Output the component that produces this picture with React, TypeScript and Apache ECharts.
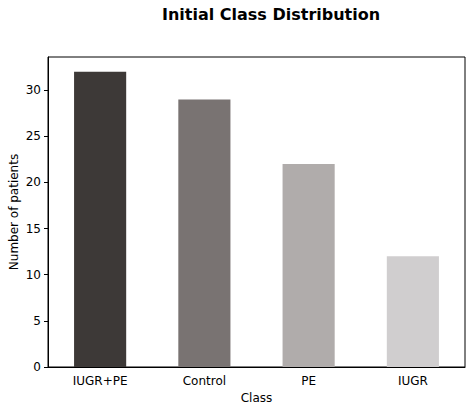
import { useEffect, useRef } from 'react';
import * as echarts from 'echarts';

const categories = ['IUGR+PE', 'Control', 'PE', 'IUGR'];
const patientCounts = [32, 29, 22, 12];
const barColors = ['#3d3937', '#797372', '#b0acab', '#d0cecf'];

export default function App() {
  const chartRef = useRef<HTMLDivElement>(null);

  useEffect(() => {
    document.body.style.margin = '0';
    if (!chartRef.current) return;
    const chart = echarts.init(chartRef.current, null, { renderer: 'svg' });
    const font = 'DejaVu Sans';

    chart.setOption({
      animation: false,
      title: {
        text: 'Initial Class Distribution',
        left: 157,
        top: 1,
        textStyle: { fontFamily: font, fontSize: 16, fontWeight: 'bold', color: '#000' }
      },
      grid: {
        left: 48,
        right: 9,
        top: 57,
        bottom: 45,
        outerBoundsMode: 'none',
        containLabel: false,
        show: true,
        borderColor: '#000',
        borderWidth: 1
      },
      xAxis: {
        type: 'category',
        data: categories,
        name: 'Class',
        nameLocation: 'middle',
        nameGap: 25,
        nameTextStyle: { fontFamily: font, fontSize: 12, color: '#000' },
        axisLine: { lineStyle: { color: '#000' } },
        axisTick: { alignWithLabel: true, length: 4, lineStyle: { color: '#000' } },
        axisLabel: { fontFamily: font, fontSize: 12, color: '#000', margin: 8 },
        splitLine: { show: false }
      },
      yAxis: {
        type: 'value',
        min: 0,
        max: 33.6,
        interval: 5,
        name: 'Number of patients',
        nameLocation: 'middle',
        nameGap: 28,
        nameMoveOverlap: false,
        nameTextStyle: { fontFamily: font, fontSize: 12, color: '#000' },
        axisLine: { show: true, lineStyle: { color: '#000' } },
        axisTick: { show: true, length: 4, lineStyle: { color: '#000' } },
        axisLabel: {
          fontFamily: font,
          fontSize: 12,
          color: '#000',
          margin: 7,
          showMaxLabel: false
        },
        splitLine: { show: false }
      },
      series: [
        {
          type: 'bar',
          barWidth: '50%',
          data: patientCounts.map((v, i) => ({ value: v, itemStyle: { color: barColors[i] } }))
        }
      ]
    });

    return () => chart.dispose();
  }, []);

  return <div ref={chartRef} style={{ width: 474, height: 412 }} />;
}
